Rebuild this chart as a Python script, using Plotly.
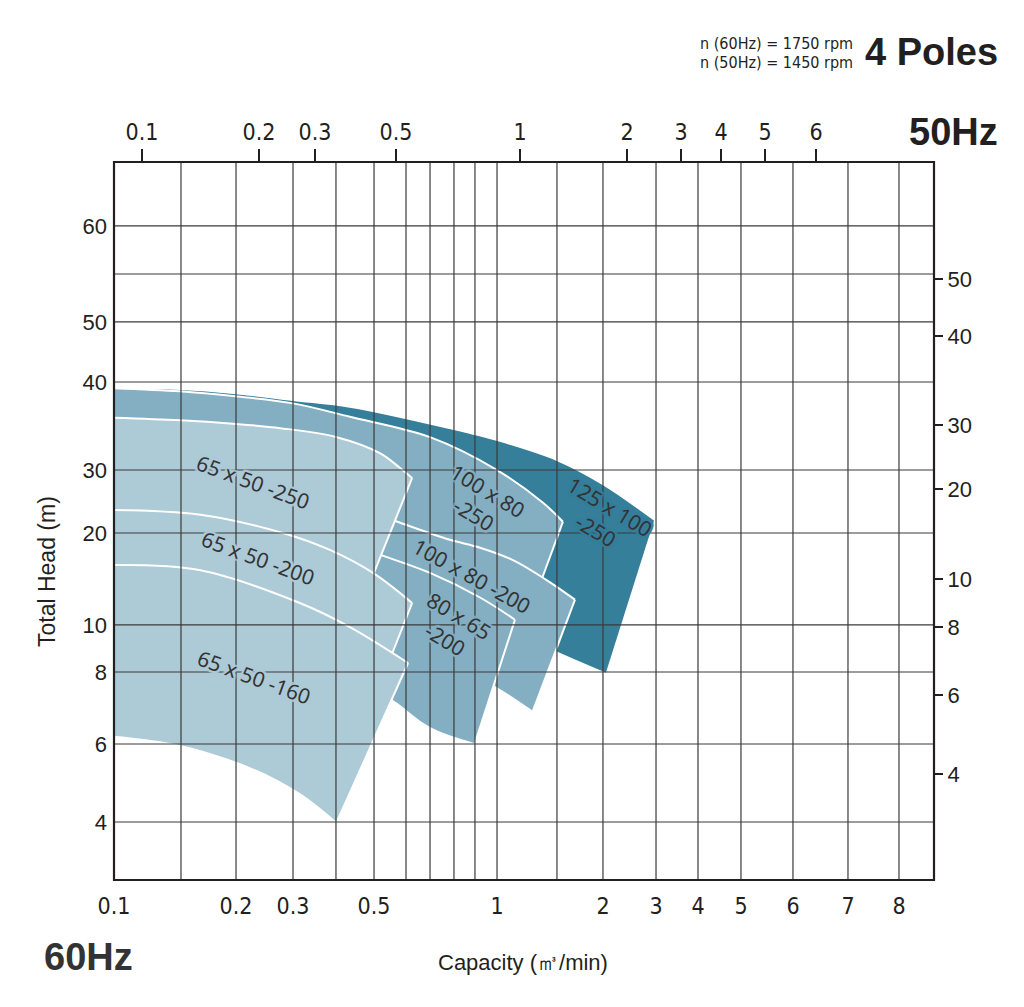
import numpy as np
import plotly.graph_objects as go

# ---------------- axis scales of the printed chart (hand-drawn, non-uniform log grid) -------------
# bottom axis: 60 Hz capacity (m3/min); grid values and where their grid lines sit (fraction of width)
X_GRID_VALS = [0.1, 0.15, 0.2, 0.3, 0.4, 0.5, 0.6, 0.7, 0.8, 0.9, 1, 1.5, 2, 3, 4, 5, 6, 7, 8]
X_GRID_TEXT = ["0.1", "", "0.2", "0.3", "", "0.5", "", "", "", "", "1", "", "2", "3", "4", "5", "6", "7", "8"]
X_GRID_POS = [0.0, 0.0817, 0.1488, 0.2183, 0.2707, 0.3171, 0.3561, 0.3854, 0.4146, 0.4402,
              0.4671, 0.5402, 0.5963, 0.6610, 0.7122, 0.7646, 0.8280, 0.8951, 0.9573]
# left axis: 60 Hz total head (m)
Y_GRID_VALS = [4, 6, 8, 10, 20, 30, 40, 50, 55, 60]
Y_GRID_TEXT = ["4", "6", "8", "10", "20", "30", "40", "50", "", "60"]
Y_GRID_POS = [0.0808, 0.1894, 0.2897, 0.3552, 0.4833, 0.5710, 0.6936, 0.7772, 0.8440, 0.9109]
# top axis: 50 Hz capacity
TOP_TEXT = ["0.1", "0.2", "0.3", "0.5", "1", "2", "3", "4", "5", "6"]
TOP_POS = [0.0341, 0.1768, 0.2451, 0.3439, 0.4951, 0.6256, 0.6915, 0.7402, 0.7939, 0.8561]
# right axis: 50 Hz total head
RIGHT_TEXT = ["4", "6", "8", "10", "20", "30", "40", "50"]
RIGHT_POS = [0.1476, 0.2577, 0.3524, 0.4192, 0.5446, 0.6337, 0.7577, 0.8370]

# ---------------- pump selection regions (60 Hz): upper curve (left->right) and
# ---------------- lower curve (right->left); the right edge joins the two ends -------------------
Q_TOP_125_100_250 = [0.1, 0.149, 0.197, 0.3, 0.434, 0.782, 1.02, 1.5, 2.0, 2.98]
H_TOP_125_100_250 = [39.3, 39.1, 38.6, 37.7, 36.9, 34.4, 33.0, 31.0, 27.4, 21.7]
Q_BOT_125_100_250 = [2.06, 1.51, 1.02, 0.657, 0.314, 0.1]
H_BOT_125_100_250 = [7.97, 8.8, 10.0, 13.0, 18.3, 24.7]

Q_TOP_100_80_250 = [0.1, 0.149, 0.197, 0.3, 0.434, 0.7, 1.0, 1.365, 1.557]
H_TOP_100_80_250 = [39.2, 38.8, 38.2, 37.3, 35.7, 33.4, 30.0, 24.3, 21.5]
Q_BOT_100_80_250 = [1.293, 0.922, 0.657, 0.434, 0.314, 0.166, 0.1]
H_BOT_100_80_250 = [12.3, 14.6, 16.9, 19.0, 21.7, 26.4, 28.1]

Q_TOP_100_80_200 = [0.434, 0.564, 0.782, 0.922, 1.114, 1.402, 1.679]
H_TOP_100_80_200 = [23.9, 21.6, 19.0, 17.9, 16.3, 14.0, 12.1]
Q_BOT_100_80_200 = [1.275, 1.0, 0.827, 0.657, 0.434]
H_BOT_100_80_200 = [6.85, 7.53, 8.15, 8.88, 9.77]

Q_TOP_80_65_200 = [0.434, 0.523, 0.7, 0.922, 1.129]
H_TOP_80_65_200 = [18.5, 16.9, 14.8, 12.3, 10.4]
Q_BOT_80_65_200 = [0.9, 0.7, 0.557, 0.434]
H_BOT_80_65_200 = [6.02, 6.42, 7.15, 7.9]

Q_TOP_65_50_250 = [0.1, 0.149, 0.197, 0.274, 0.402, 0.517, 0.58, 0.624]
H_TOP_65_50_250 = [35.6, 35.3, 34.9, 34.4, 33.4, 31.7, 30.2, 28.5]
Q_BOT_65_50_250 = [0.474, 0.314, 0.166, 0.1]
H_BOT_65_50_250 = [12.5, 15.7, 19.0, 19.7]

Q_TOP_65_50_200 = [0.1, 0.166, 0.279, 0.384, 0.497, 0.624]
H_TOP_65_50_200 = [23.2, 22.5, 20.0, 17.6, 14.8, 11.8]
Q_BOT_65_50_200 = [0.532, 0.314, 0.166, 0.1]
H_BOT_65_50_200 = [8.0, 9.31, 12.1, 12.5]

Q_TOP_65_50_160 = [0.1, 0.166, 0.314, 0.434, 0.608]
H_TOP_65_50_160 = [15.7, 15.1, 11.8, 9.9, 8.35]
Q_BOT_65_50_160 = [0.402, 0.314, 0.221, 0.149, 0.1]
H_BOT_65_50_160 = [3.98, 4.65, 5.32, 5.97, 6.2]

# model labels: text, anchor (Q, H), angle
LABEL_TEXT = ["65 x 50 -250", "65 x 50 -200", "65 x 50 -160", "100 x 80<br>-250",
              "125 x 100<br>-250", "100 x 80 -200", "80 x 65<br>-200"]
LABEL_Q = [0.226, 0.234, 0.227, 0.926, 2.0, 0.885, 0.791]
LABEL_H = [27.8, 16.6, 7.84, 24.4, 22.0, 14.5, 9.86]
LABEL_ANGLE = [20, 20, 20, 31, 31, 29, 31]

DARK = "#357f9b"
MED = "#84afc3"
LIGHT = "#adcad7"
LABEL_BG = [LIGHT, LIGHT, LIGHT, MED, DARK, MED, MED]

REGIONS = [
    (Q_TOP_125_100_250, H_TOP_125_100_250, Q_BOT_125_100_250, H_BOT_125_100_250, DARK),
    (Q_TOP_100_80_250, H_TOP_100_80_250, Q_BOT_100_80_250, H_BOT_100_80_250, MED),
    (Q_TOP_100_80_200, H_TOP_100_80_200, Q_BOT_100_80_200, H_BOT_100_80_200, MED),
    (Q_TOP_80_65_200, H_TOP_80_65_200, Q_BOT_80_65_200, H_BOT_80_65_200, MED),
    (Q_TOP_65_50_250, H_TOP_65_50_250, Q_BOT_65_50_250, H_BOT_65_50_250, LIGHT),
    (Q_TOP_65_50_200, H_TOP_65_50_200, Q_BOT_65_50_200, H_BOT_65_50_200, LIGHT),
    (Q_TOP_65_50_160, H_TOP_65_50_160, Q_BOT_65_50_160, H_BOT_65_50_160, LIGHT),
]


def xs(q):
    return np.interp(np.log10(q), np.log10(X_GRID_VALS), X_GRID_POS)


def ys(h):
    return np.interp(np.log10(h), np.log10(Y_GRID_VALS), Y_GRID_POS)


INK = "#231f20"
GRID = "#3a3a3a"
NARROW = "Liberation Sans Narrow, DejaVu Sans Condensed, Arial Narrow, sans-serif"
REG = "Liberation Sans, Arial, sans-serif"

fig = go.Figure()

for qt, ht, qb, hb, col in REGIONS:
    qt, ht, qb, hb = map(np.array, (qt, ht, qb, hb))
    # lower curve, drawn left -> right, no stroke
    fig.add_trace(go.Scatter(
        x=xs(qb[::-1]), y=ys(hb[::-1]), mode="lines",
        line=dict(color=col, width=0, shape="spline", smoothing=1.0), hoverinfo="skip"))
    # upper curve with white stroke, filled down to the lower curve
    fig.add_trace(go.Scatter(
        x=xs(qt), y=ys(ht), mode="lines", fill="tonexty", fillcolor=col,
        line=dict(color="white", width=2, shape="spline", smoothing=1.0), hoverinfo="skip"))
    # right-hand end-of-curve edge (white stroke)
    fig.add_trace(go.Scatter(
        x=xs(np.array([qt[-1], qb[0]])), y=ys(np.array([ht[-1], hb[0]])), mode="lines",
        line=dict(color="white", width=2), hoverinfo="skip"))

# grid lines drawn over the regions (on the overlaying subplot)
gx, gy = [], []
for p in X_GRID_POS[1:]:
    gx += [p, p, None]
    gy += [0, 1, None]
for p in Y_GRID_POS:
    gx += [0, 1, None]
    gy += [p, p, None]
fig.add_trace(go.Scatter(x=gx, y=gy, mode="lines", xaxis="x2", yaxis="y2",
                         line=dict(color=GRID, width=1.2), hoverinfo="skip"))

annotations = []
for t, q, h, a, bg in zip(LABEL_TEXT, LABEL_Q, LABEL_H, LABEL_ANGLE, LABEL_BG):
    halo = ", ".join([f"{dx}px {dy}px 1px {bg}" for dx, dy in
                      [(2, 0), (-2, 0), (0, 2), (0, -2), (2, 2), (-2, -2), (2, -2), (-2, 2)]])
    annotations.append(dict(
        x=float(xs(q)), y=float(ys(h)), xref="x", yref="y", text=t, showarrow=False,
        textangle=a, align="center",
        font=dict(family="Noto Sans, sans-serif", size=21, color="#333333", shadow=halo)))

annotations += [
    dict(x=855, y=43, xref="paper", yref="paper", text="n (60Hz) = 1750 rpm", showarrow=False,
         xanchor="right", yanchor="middle", font=dict(family=NARROW, size=16, color=INK)),
    dict(x=855, y=62, xref="paper", yref="paper", text="n (50Hz) = 1450 rpm", showarrow=False,
         xanchor="right", yanchor="middle", font=dict(family=NARROW, size=16, color=INK)),
    dict(x=1000, y=52, xref="paper", yref="paper", text="<b>4 Poles</b>", showarrow=False,
         xanchor="right", yanchor="middle", font=dict(family=REG, size=38, color=INK)),
    dict(x=1000, y=132, xref="paper", yref="paper", text="<b>50Hz</b>", showarrow=False,
         xanchor="right", yanchor="middle", font=dict(family=REG, size=38, color=INK)),
    dict(x=42, y=957, xref="paper", yref="paper", text="<b>60Hz</b>", showarrow=False,
         xanchor="left", yanchor="middle", font=dict(family=REG, size=38, color="#333333")),
    dict(x=523, y=962, xref="paper", yref="paper", text="Capacity (㎥/min)", showarrow=False,
         xanchor="center", yanchor="middle", font=dict(family=REG, size=22, color=INK)),
    dict(x=47, y=572, xref="paper", yref="paper", text="Total Head (m)", showarrow=False,
         textangle=-90, xanchor="center", yanchor="middle", font=dict(family=REG, size=23, color=INK)),
]

# convert pixel-placed page texts into paper coordinates
W, H = 1024, 1007
ML, MR, MT, MB = 114, 90, 162, 127
PW, PH = W - ML - MR, H - MT - MB
for a in annotations:
    if a["xref"] == "paper":
        a["x"] = (a["x"] - ML) / PW
        a["y"] = (H - MB - a["y"]) / PH

fig.update_layout(
    width=W, height=H, margin=dict(l=ML, r=MR, t=MT, b=MB, pad=0),
    paper_bgcolor="white", plot_bgcolor="white", showlegend=False,
    xaxis=dict(range=[0, 1], tickvals=X_GRID_POS, ticktext=X_GRID_TEXT, showgrid=False,
               zeroline=False, showline=False, ticks="", ticklabelstandoff=10,
               tickfont=dict(family=NARROW, size=23, color=INK), fixedrange=True),
    yaxis=dict(range=[0, 1], tickvals=Y_GRID_POS, ticktext=Y_GRID_TEXT, showgrid=False,
               zeroline=False, showline=False, ticks="", ticklabelstandoff=6,
               tickfont=dict(family=REG, size=22, color=INK), fixedrange=True),
    xaxis2=dict(range=[0, 1], overlaying="x", side="top", tickvals=TOP_POS, ticktext=TOP_TEXT,
                ticks="outside", ticklen=12, tickwidth=1.5, tickcolor=INK, showgrid=False,
                zeroline=False, showline=False,
                tickfont=dict(family=NARROW, size=23, color=INK), fixedrange=True),
    yaxis2=dict(range=[0, 1], overlaying="y", side="right", tickvals=RIGHT_POS, ticktext=RIGHT_TEXT,
                ticks="outside", ticklen=8, tickwidth=1.5, tickcolor=INK, showgrid=False,
                zeroline=False, showline=False,
                tickfont=dict(family=REG, size=22, color=INK), fixedrange=True),
    shapes=[dict(type="rect", xref="paper", yref="paper", x0=0, x1=1, y0=0, y1=1,
                 line=dict(color=INK, width=2.2), layer="above")],
    annotations=annotations,
)

fig.write_html("out.html")
